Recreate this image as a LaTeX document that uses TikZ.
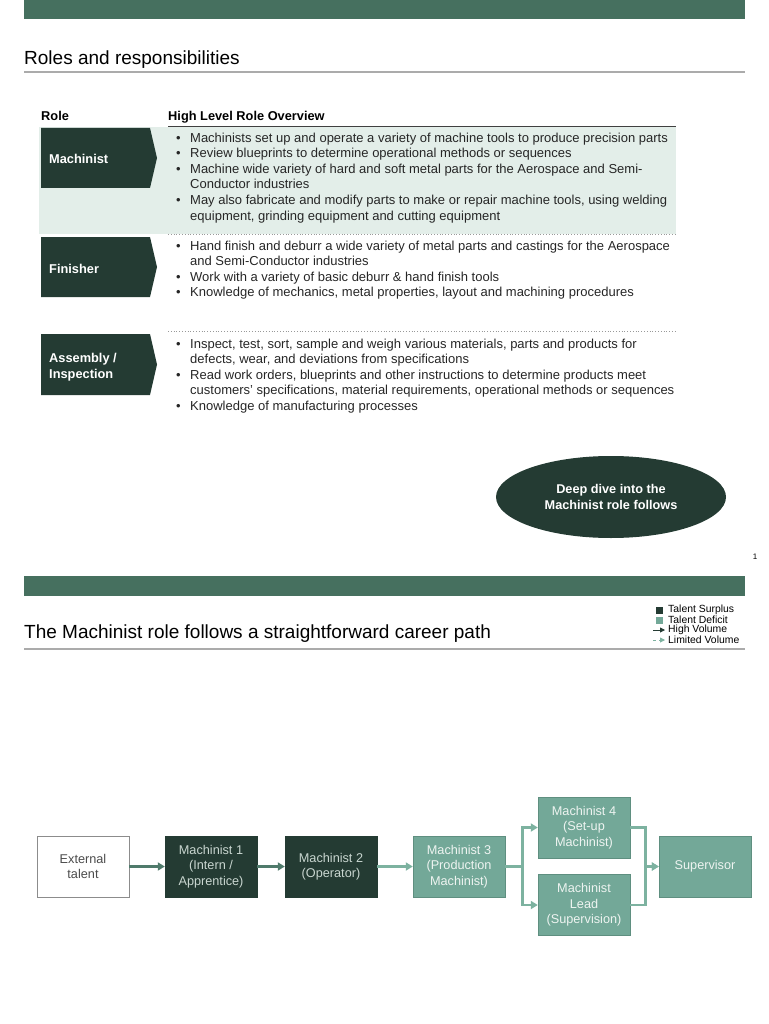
\documentclass[tikz,border=0pt]{standalone}
\usepackage{fontspec}
\setmainfont{Liberation Sans}
\usetikzlibrary{arrows.meta,shapes.geometric}

\definecolor{bargreen}{HTML}{46705F}
\definecolor{darkgreen}{HTML}{243B33}
\definecolor{bandgreen}{HTML}{E3EEE9}
\definecolor{lightbox}{HTML}{73A898}
\definecolor{lightedge}{HTML}{5F8F80}
\definecolor{darktext}{HTML}{C9D6D0}
\definecolor{lighttext}{HTML}{EEF4F1}
\definecolor{darkarrow}{HTML}{4F7A6B}
\definecolor{lightarrow}{HTML}{7DB2A0}
\definecolor{rulegray}{HTML}{ABABAB}

\newcommand{\bul}{\makebox[14pt][l]{\textbullet}}
\newcommand{\ind}{\hspace*{14pt}}

\begin{document}
\begin{tikzpicture}[x=1pt,y=-1pt,
  title/.style={anchor=base west, inner sep=0, font=\fontsize{19}{22}\selectfont},
  hdr/.style={anchor=base west, inner sep=0, font=\fontsize{12.8}{15.5}\selectfont\bfseries},
  rolelabel/.style={anchor=west, inner sep=0, align=left, text=white, font=\fontsize{12.8}{15.5}\selectfont\bfseries},
  bullets/.style={anchor=north west, inner sep=0, align=left, text=black!85, font=\fontsize{13}{15.6}\selectfont},
  flowbox/.style={minimum width=92pt, minimum height=61pt, align=center, inner sep=2pt, font=\fontsize{12.7}{15.5}\selectfont},
  talent/.style={flowbox, draw=black!45, fill=white, text=black!70},
  surplus/.style={flowbox, draw=darkgreen, fill=darkgreen, text=darktext},
  deficit/.style={flowbox, draw=lightedge, fill=lightbox, text=lighttext},
  highvol/.style={-{Triangle[length=7pt,width=8pt]}, line width=2.6pt, darkarrow},
  lowvol/.style={-{Triangle[length=7pt,width=8pt]}, line width=2.6pt, lightarrow},
  legend/.style={anchor=west, inner sep=0, font=\fontsize{10.4}{10}\selectfont}]
\useasboundingbox (0,0) rectangle (768,1024);

% page 1
\fill[bargreen] (24,0) rectangle (745,19);
\node[title] (title1) at (24,65) {Roles and responsibilities};
\draw[rulegray, line width=2pt] (24,72) -- (745,72);

\node[hdr] (rolehd) at (41,121) {Role};
\node[hdr] (overhd) at (168,121) {High Level Role Overview};
\draw[black!75, line width=1.2pt] (168,126.5) -- (676,126.5);

\fill[bandgreen] (39,127.5) rectangle (676,234);

% role chevrons
\fill[darkgreen] (41,128) -- (150,128) -- (157,158) -- (150,188) -- (41,188) -- cycle;
\fill[darkgreen] (41,237) -- (150,237) -- (157,267) -- (150,297) -- (41,297) -- cycle;
\fill[darkgreen] (41,334) -- (150,334) -- (157,364.5) -- (150,395) -- (41,395) -- cycle;
\node[rolelabel] (machinist) at (49,159) {Machinist};
\node[rolelabel] (finisher) at (49,269) {Finisher};
\node[rolelabel] (assembly) at (49,367) {Assembly /\\Inspection};

\draw[black!40, dotted, line width=0.8pt] (168,234) -- (676,234);
\draw[black!40, dotted, line width=0.8pt] (168,331) -- (676,331);

\node[bullets] (machtext) at (176,132.5) {\bul Machinists set up and operate a variety of machine tools to produce precision parts\\
\bul Review blueprints to determine operational methods or sequences\\
\bul Machine wide variety of hard and soft metal parts for the Aerospace and Semi-\\
\ind Conductor industries\\
\bul May also fabricate and modify parts to make or repair machine tools, using welding\\
\ind equipment, grinding equipment and cutting equipment};

\node[bullets] (fintext) at (176,240.5) {\bul Hand finish and deburr a wide variety of metal parts and castings for the Aerospace\\
\ind and Semi-Conductor industries\\
\bul Work with a variety of basic deburr \& hand finish tools\\
\bul Knowledge of mechanics, metal properties, layout and machining procedures};

\node[bullets] (asstext) at (176,338.5) {\bul Inspect, test, sort, sample and weigh various materials, parts and products for\\
\ind defects, wear, and deviations from specifications\\
\bul Read work orders, blueprints and other instructions to determine products meet\\
\ind customers' specifications, material requirements, operational methods or sequences\\
\bul Knowledge of manufacturing processes};

\node[ellipse, fill=darkgreen, minimum width=230pt, minimum height=82pt, align=center, text=white,
  font=\fontsize{12.7}{15.5}\selectfont\bfseries] (dive) at (611,497) {Deep dive into the\\Machinist role follows};
\node[inner sep=0, font=\fontsize{8}{8}\selectfont] (pagenum) at (755,557) {1};

% page 2
\fill[bargreen] (24,576) rectangle (745,596);
\node[title] (title2) at (24,638) {The Machinist role follows a straightforward career path};
\draw[rulegray, line width=2pt] (24,649) -- (745,649);

\fill[darkgreen] (655.5,606.5) rectangle (662.5,613.5);
\fill[lightbox] (655.5,616.5) rectangle (662.5,623.5);
\coordinate (hvA) at (653,630);
\coordinate (hvB) at (665,630);
\coordinate (lvA) at (653,640);
\coordinate (lvB) at (665,640);
\draw[-{Triangle[length=5pt,width=5pt]}, darkgreen, line width=0.9pt] (hvA) -- (hvB);
\draw[-{Triangle[length=5pt,width=5pt]}, lightarrow, dashed, line width=0.9pt] (lvA) -- (lvB);
\node[legend] (lgsur) at (668,610) {Talent Surplus};
\node[legend] (lgdef) at (668,620) {Talent Deficit};
\node[legend] (lghv) at (668,630) {High Volume};
\node[legend] (lglv) at (668,640) {Limited Volume};

% career path
\node[talent] (ext) at (83,866.5) {External\\talent};
\node[surplus] (mach1) at (211,866.5) {Machinist 1\\(Intern /\\Apprentice)};
\node[surplus] (mach2) at (331,866.5) {Machinist 2\\(Operator)};
\node[deficit] (mach3) at (459,866.5) {Machinist 3\\(Production\\Machinist)};
\node[deficit] (mach4) at (584,827.5) {Machinist 4\\(Set-up\\Machinist)};
\node[deficit] (lead) at (584,905) {Machinist\\Lead\\(Supervision)};
\node[deficit] (sup) at (705,866.5) {Supervisor};

\draw[highvol] (ext) -- (mach1);
\draw[highvol] (mach1) -- (mach2);
\draw[lowvol] (mach2) -- (mach3);
\draw[lowvol] (mach3.east) -- ++(17,0) coordinate (split) |- (mach4.west);
\draw[lowvol] (split) |- (lead.west);
\draw[lowvol] (mach4.east) -- ++(15,0) |- (sup.west);
\draw[lowvol] (lead.east) -- ++(15,0) |- (sup.west);
\end{tikzpicture}
\end{document}
